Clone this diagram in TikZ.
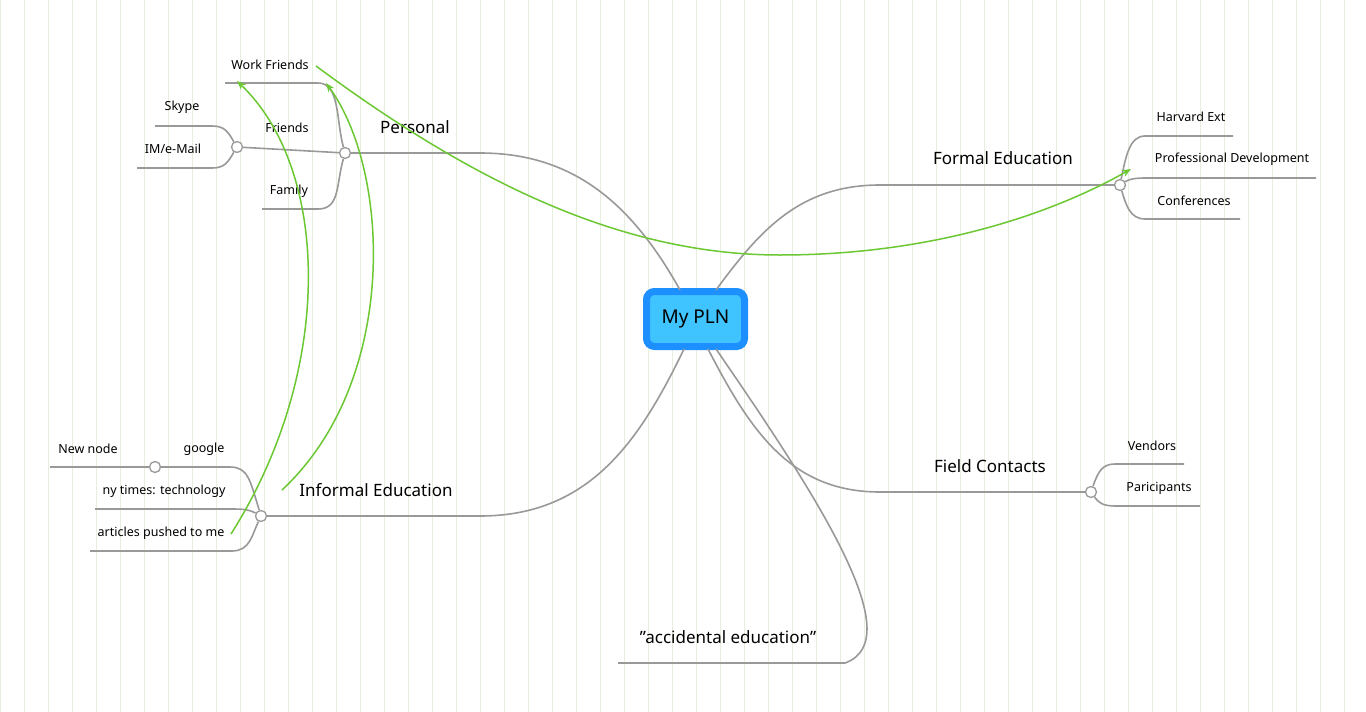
\documentclass[tikz,border=0pt]{standalone}
\usepackage{fontspec}
\setmainfont{Noto Sans}
\usetikzlibrary{arrows.meta}
\definecolor{gridc}{HTML}{E6EEDC}
\definecolor{branch}{HTML}{999999}
\definecolor{rel}{HTML}{6CC832}
\definecolor{outerb}{HTML}{1E8FFF}
\definecolor{innerb}{HTML}{40C4FF}
\tikzset{
  br/.style={draw=branch,line width=1.6pt},
  knot/.style={circle,draw=branch,line width=1.3pt,fill=white,minimum size=11pt,inner sep=0pt},
  small/.style={font=\fontsize{12.5}{14}\selectfont,inner sep=0pt},
  big/.style={font=\fontsize{17}{20}\selectfont\bfseries,inner sep=0pt},
  relarrow/.style={draw=rel,line width=1.5pt,-{Stealth[length=9pt,width=7pt]}},
}
\begin{document}
\begin{tikzpicture}[x=1pt,y=-1pt]
\useasboundingbox (0,0) rectangle (1366,712);
\fill[white] (0,0) rectangle (1366,712);
\draw[gridc,line width=0.6pt,step=24] (0,-16) grid (1366,712);
% centre
\node[draw=outerb,line width=7pt,fill=innerb,rounded corners=8pt,minimum width=98pt,minimum height=55pt,font=\fontsize{19}{22}\selectfont\bfseries] (c) at (695.5,319) {My PLN};
\coordinate (cA) at (680,290);
\coordinate (cB) at (716,290);
\coordinate (cC) at (684,349);
\coordinate (cD) at (708,349);
\coordinate (cE) at (716,349);
% knots
\node[knot] (kp) at (345,153) {};
\node[knot] (kf) at (1120,185) {};
\node[knot] (kfc) at (1091,492) {};
\node[knot] (ki) at (261,516) {};
\node[knot] (ks) at (237,147) {};
\node[knot] (kn) at (155,467) {};
% main branches
\draw[br] (cA) .. controls (630,200) and (570,153) .. (480,153) -- (kp);
\draw[br] (cB) .. controls (760,230) and (800,185) .. (880,185) -- (kf);
\draw[br] (cD) .. controls (750,430) and (790,492) .. (880,492) -- (kfc);
\draw[br] (cC) .. controls (640,440) and (590,516) .. (480,516) -- (ki);
\draw[br] (cE) .. controls (820,500) and (910,640) .. (845,663) -- (618,663);
\node[big] (lp) at (415,127) {Personal};
\node[big] (lf) at (1003,158) {Formal Education};
\node[big] (lfc) at (990,466) {Field Contacts};
\node[big] (li) at (376,490) {Informal Education};
\node[big] (la) at (728,637) {"accidental education"};
% Personal children
\coordinate (wf) at (225,83);
\coordinate (fr) at (262,209);
\draw[br] (kp) .. controls (336,120) and (340,83) .. (318,83) -- (wf);
\draw[br] (kp) .. controls (336,185) and (340,209) .. (318,209) -- (fr);
\draw[br] (kp) -- (ks);
\coordinate (sk) at (155,126);
\coordinate (im) at (137,168);
\draw[br] (ks) .. controls (228,132) and (225,126) .. (212,126) -- (sk);
\draw[br] (ks) .. controls (228,162) and (225,168) .. (212,168) -- (im);
\node[small] (t1) at (270,65) {Work Friends};
\node[small] (t2) at (182,107) {Skype};
\node[small] (t3) at (173,149) {IM/e-Mail};
\node[small] (t4) at (287,128) {Friends};
\node[small] (t5) at (289,191) {Family};
% Formal children
\coordinate (h) at (1233,136);
\coordinate (pd) at (1316,178);
\coordinate (co) at (1240,219);
\draw[br] (kf) .. controls (1126,155) and (1130,136) .. (1145,136) -- (h);
\draw[br] (kf) .. controls (1128,180) and (1132,178) .. (1145,178) -- (pd);
\draw[br] (kf) .. controls (1126,205) and (1130,219) .. (1145,219) -- (co);
\node[small] (t6) at (1191,117) {Harvard Ext};
\node[small] (t7) at (1232,159) {Professional Development};
\node[small] (t8) at (1194,201) {Conferences};
% Field children
\coordinate (ve) at (1184,464);
\coordinate (pa) at (1200,506);
\draw[br] (kfc) .. controls (1098,472) and (1102,464) .. (1115,464) -- (ve);
\draw[br] (kfc) .. controls (1098,502) and (1102,506) .. (1115,506) -- (pa);
\node[small] (t9) at (1152,446) {Vendors};
\node[small] (t10) at (1159,488) {Paricipants};
% Informal children
\coordinate (g) at (50,467);
\coordinate (ny) at (95,509);
\coordinate (ar) at (90,551);
\draw[br] (ki) .. controls (250,480) and (248,467) .. (230,467) -- (kn) -- (g);
\draw[br] (ki) .. controls (250,510) and (245,509) .. (232,509) -- (ny);
\draw[br] (ki) .. controls (252,535) and (250,551) .. (232,551) -- (ar);
\node[small] (t11) at (88,449) {New node};
\node[small] (t12) at (204,449) {google};
\node[small] (t13) at (164,491) {ny times: technology};
\node[small] (t14) at (161,533) {articles pushed to me};
% relationships
\coordinate (r1s) at (316,66);
\coordinate (r1e) at (1131,169);
\coordinate (r2s) at (231,534);
\coordinate (r2e) at (237,81);
\coordinate (r3s) at (282,490);
\coordinate (r3e) at (326,83);
\draw[relarrow] (r1s) .. controls (470,180) and (620,255) .. (780,255) .. controls (930,255) and (1050,215) .. (r1e);
\draw[relarrow] (r2s) .. controls (335,370) and (330,170) .. (r2e);
\draw[relarrow] (r3s) .. controls (400,380) and (390,170) .. (r3e);
\end{tikzpicture}
\end{document}
